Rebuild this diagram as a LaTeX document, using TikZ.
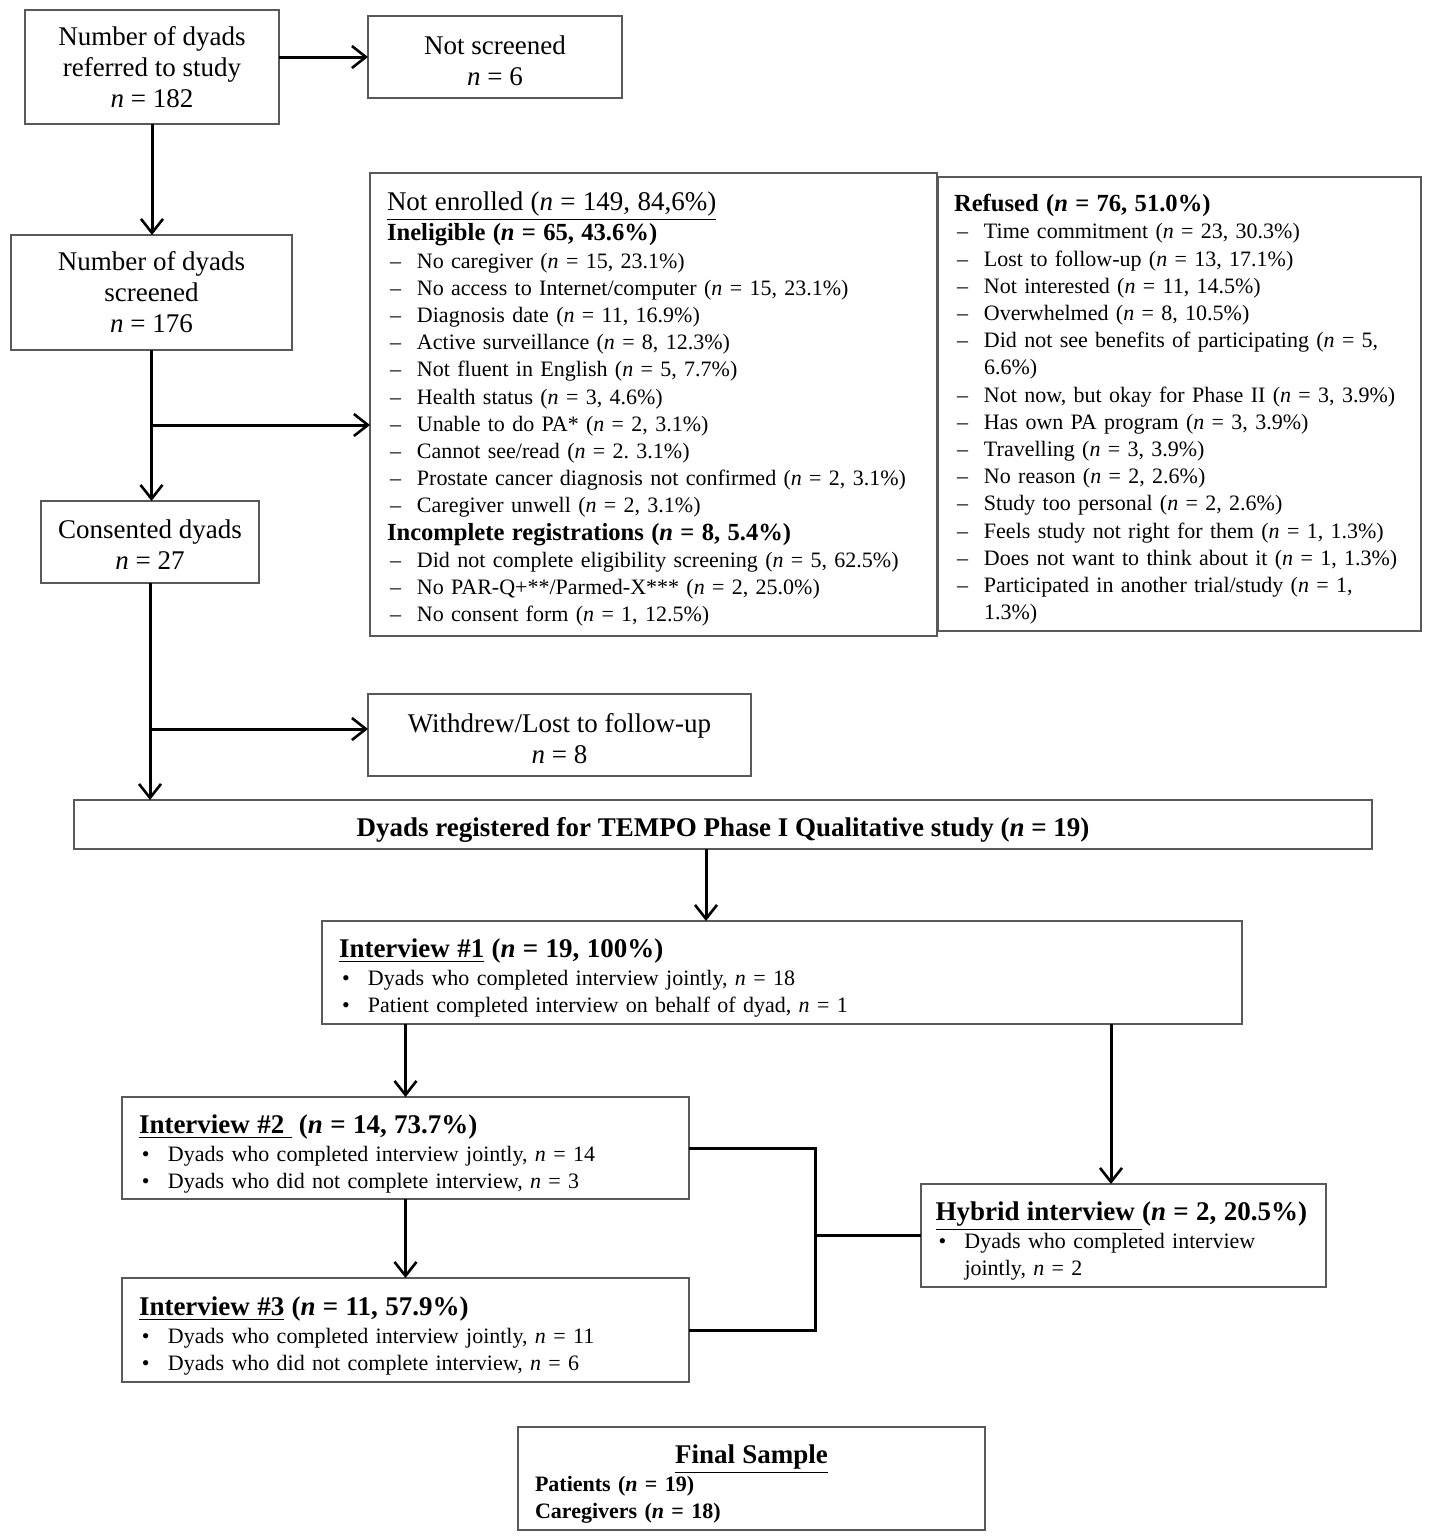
\documentclass[tikz,border=0pt]{standalone}
\usepackage{fontspec}
\setmainfont{Liberation Serif}
\usetikzlibrary{arrows.meta}
\frenchspacing
\newcommand\ditem[1]{\makebox[15pt][l]{\hspace{1.5pt}–}#1}
\newcommand\bitem[1]{\makebox[14.5pt][l]{\hspace{1.5pt}•}#1}
\newcommand\tpad[1]{\rule{0pt}{#1}}
\tikzset{
 bx/.style={draw=black!65, line width=1pt, inner sep=0pt, outer sep=0pt},
 rect/.style args={#1/#2/#3/#4}{minimum width={(#3-#1)*0.5pt}, minimum height={(#4-#2)*0.5pt}, at={({(#1+#3)/2},{(#2+#4)/2})}},
 big/.style={font=\fontsize{13.5}{15.5}\selectfont},
 small/.style={font=\fontsize{11}{13.6}\selectfont},
 arr/.style={line width=1.5pt, -{Straight Barb[length=7pt,width=11pt,line width=1.3pt]}},
 ln/.style={line width=1.5pt},
}
\begin{document}
\begin{tikzpicture}[x=0.5pt,y=-0.5pt]
\useasboundingbox (0,0) rectangle (1432,1539);
\node[bx,big,align=center,rect=25/10/279/124] (ref) {Number of dyads\\referred to study\\\textit{n} = 182};
\node[bx,big,align=center,rect=368/16/622/98] (ns) {\tpad{13pt}Not screened\\\textit{n} = 6};
\node[bx,big,align=center,rect=11/235/292/350] (scr) {Number of dyads\\screened\\\textit{n} = 176};
\node[bx,big,align=center,rect=41/501/259/583] (cons) {\tpad{12pt}Consented dyads\\\textit{n} = 27};
\node[bx,big,align=center,rect=368/694/751/776] (wd) {\tpad{13pt}Withdrew/Lost to follow-up\\\textit{n} = 8};
\node[bx,font=\fontsize{13.5}{15.5}\selectfont\bfseries,align=center,rect=74/800/1372/849] (reg) {\tpad{15pt}Dyads registered for TEMPO Phase I Qualitative study (\textit{n} = 19)};

\node[bx,small,align=left,text width=266.5pt,rect=370/173/937/636] (ne) {%
{\fontsize{13.5}{15}\selectfont\tpad{14pt}\underline{Not enrolled (\textit{n} = 149, 84,6\%)}}\\[1.5pt]
{\fontsize{12.3}{13.6}\selectfont\bfseries Ineligible (\textit{n} = 65, 43.6\%)}\\
\ditem{No caregiver (\textit{n} = 15, 23.1\%)}\\
\ditem{No access to Internet/computer (\textit{n} = 15, 23.1\%)}\\
\ditem{Diagnosis date (\textit{n} = 11, 16.9\%)}\\
\ditem{Active surveillance (\textit{n} = 8, 12.3\%)}\\
\ditem{Not fluent in English (\textit{n} = 5, 7.7\%)}\\
\ditem{Health status (\textit{n} = 3, 4.6\%)}\\
\ditem{Unable to do PA* (\textit{n} = 2, 3.1\%)}\\
\ditem{Cannot see/read (\textit{n} = 2. 3.1\%)}\\
\ditem{Prostate cancer diagnosis not confirmed (\textit{n} = 2, 3.1\%)}\\
\ditem{Caregiver unwell (\textit{n} = 2, 3.1\%)}\\
{\fontsize{12.3}{13.6}\selectfont\bfseries Incomplete registrations (\textit{n} = 8, 5.4\%)}\\
\ditem{Did not complete eligibility screening (\textit{n} = 5, 62.5\%)}\\
\ditem{No PAR-Q+**/Parmed-X*** (\textit{n} = 2, 25.0\%)}\\
\ditem{No consent form (\textit{n} = 1, 12.5\%)}};

\node[bx,small,align=left,text width=225.5pt,rect=938/177/1421/631] (rf) {%
{\fontsize{12.3}{13.6}\selectfont\bfseries\tpad{14pt}Refused (\textit{n} = 76, 51.0\%)}\\
\ditem{Time commitment (\textit{n} = 23, 30.3\%)}\\
\ditem{Lost to follow-up (\textit{n} = 13, 17.1\%)}\\
\ditem{Not interested (\textit{n} = 11, 14.5\%)}\\
\ditem{Overwhelmed (\textit{n} = 8, 10.5\%)}\\
\ditem{Did not see benefits of participating (\textit{n} = 5,}\\
\hspace*{15pt}6.6\%)\\
\ditem{Not now, but okay for Phase II (\textit{n} = 3, 3.9\%)}\\
\ditem{Has own PA program (\textit{n} = 3, 3.9\%)}\\
\ditem{Travelling (\textit{n} = 3, 3.9\%)}\\
\ditem{No reason (\textit{n} = 2, 2.6\%)}\\
\ditem{Study too personal (\textit{n} = 2, 2.6\%)}\\
\ditem{Feels study not right for them (\textit{n} = 1, 1.3\%)}\\
\ditem{\mbox{Does not want to think about it (\textit{n} = 1, 1.3\%)}}\\
\ditem{Participated in another trial/study (\textit{n} = 1,}\\
\hspace*{15pt}1.3\%)};

\node[bx,small,align=left,text width=443pt,rect=322/921/1242/1024] (int1) {%
{\fontsize{13.5}{15}\selectfont\bfseries\tpad{15pt}\underline{Interview \#1} (\textit{n} = 19, 100\%)}\\
\bitem{Dyads who completed interview jointly, \textit{n} = 18}\\
\bitem{Patient completed interview on behalf of dyad, \textit{n} = 1}};

\node[bx,small,align=left,text width=266.5pt,rect=122/1097/689/1199] (int2) {%
{\fontsize{13.5}{15}\selectfont\bfseries\tpad{15.5pt}\underline{Interview \#2\ }\ (\textit{n} = 14, 73.7\%)}\\
\bitem{Dyads who completed interview jointly, \textit{n} = 14}\\
\bitem{Dyads who did not complete interview, \textit{n} = 3}};

\node[bx,small,align=left,text width=266.5pt,rect=122/1278/689/1382] (int3) {%
{\fontsize{13.5}{15}\selectfont\bfseries\tpad{15.5pt}\underline{Interview \#3} (\textit{n} = 11, 57.9\%)}\\
\bitem{Dyads who completed interview jointly, \textit{n} = 11}\\
\bitem{Dyads who did not complete interview, \textit{n} = 6}};

\node[bx,small,align=left,text width=188pt,rect=921/1184/1326/1287] (hyb) {%
\mbox{\fontsize{13.5}{15}\selectfont\bfseries\tpad{15pt}\underline{Hybrid interview\ }(\textit{n} = 2, 20.5\%)}\\
\bitem{Dyads who completed interview}\\
\hspace*{14.5pt}jointly, \textit{n} = 2};

\node[bx,small,align=left,text width=216.5pt,rect=518/1427/985/1530] (fin) {%
\makebox[216.5pt]{\fontsize{13.5}{15}\selectfont\bfseries\tpad{15pt}\underline{Final Sample}}\\
\textbf{Patients (\textit{n} = 19)}\\
\textbf{Caregivers (\textit{n} = 18)}};

\coordinate (b1) at (scr.south |- 0,425);
\coordinate (b2) at (cons.south |- 0,729);
\coordinate (a1) at (706,0);
\coordinate (a2) at (1111,0);
\coordinate (j) at (815,0);

\draw[arr] (ref.east |- ns.west) -- (ns.west);
\draw[arr] (ref.south) -- (ref.south |- scr.north);
\draw[arr] (scr.south) -- (scr.south |- cons.north);
\draw[arr] (b1) -- (b1 -| ne.west);
\draw[arr] (cons.south) -- (cons.south |- reg.north);
\draw[arr] (b2) -- (b2 -| wd.west);
\draw[arr] (reg.south -| a1) -- (int1.north -| a1);
\draw[arr] (int1.south -| int2.north) -- (int2.north);
\draw[arr] (int1.south -| a2) -- (hyb.north -| a2);
\draw[arr] (int2.south) -- (int3.north);
\draw[ln] (int2.east) -- (int2.east -| j) -- (int3.east -| j) -- (int3.east);
\draw[ln] (hyb.west -| j) -- (hyb.west);
\end{tikzpicture}
\end{document}
